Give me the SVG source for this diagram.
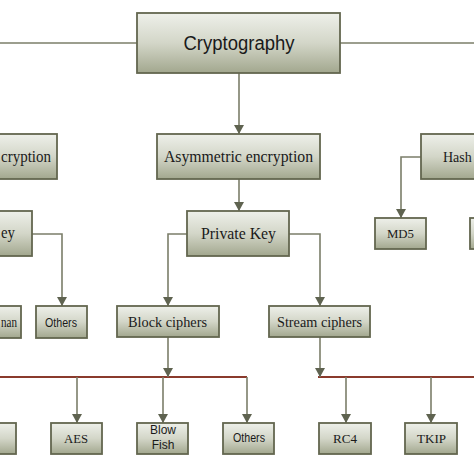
<svg xmlns="http://www.w3.org/2000/svg" width="474" height="474" viewBox="0 0 474 474">
<defs>
<linearGradient id="g" x1="0" y1="0" x2="0" y2="1">
<stop offset="0" stop-color="#eef0ea"/>
<stop offset="0.5" stop-color="#d3d6c8"/>
<stop offset="1" stop-color="#a2a78e"/>
</linearGradient>
<marker id="ad" markerUnits="userSpaceOnUse" markerWidth="12" markerHeight="12" viewBox="0 0 12 12" refX="11" refY="6" orient="auto">
<path d="M2 1 L11 6 L2 11 Z" fill="#5f6350"/>
</marker>
<style>
.box{fill:url(#g);stroke:#63664f;stroke-width:1.8}
.c{fill:none;stroke:#7b7e69;stroke-width:1.6}
.bus{fill:none;stroke:#8a3a2c;stroke-width:2}
.sf{font-family:"Liberation Serif","Times New Roman",serif;fill:#1a1a1a}
.ss{font-family:"Liberation Sans",Arial,sans-serif;fill:#1a1a1a}
</style>
</defs>
<rect width="474" height="474" fill="#ffffff"/>
<g id="connectors">
<path class="c" d="M0 43 H137"/>
<path class="c" d="M340 43 H474"/>
<path class="c" d="M239 73 V134" marker-end="url(#ad)"/>
<path class="c" d="M239 179 V211" marker-end="url(#ad)"/>
<path class="c" d="M187 234 H168 V306" marker-end="url(#ad)"/>
<path class="c" d="M289 234 H320 V306" marker-end="url(#ad)"/>
<path class="c" d="M32 234 H62 V306" marker-end="url(#ad)"/>
<path class="c" d="M421 157 H401 V218" marker-end="url(#ad)"/>
<path class="bus" d="M0 377 H247"/>
<path class="bus" d="M318 377 H474"/>
<path class="c" d="M168 337 V377" marker-end="url(#ad)"/>
<path class="c" d="M320 337 V377" marker-end="url(#ad)"/>
<path class="c" d="M77 377 V423" marker-end="url(#ad)"/>
<path class="c" d="M163 377 V423" marker-end="url(#ad)"/>
<path class="c" d="M247 377 V423" marker-end="url(#ad)"/>
<path class="c" d="M346 377 V423" marker-end="url(#ad)"/>
<path class="c" d="M431 377 V423" marker-end="url(#ad)"/>
</g>
<g id="cryptography">
<rect class="box" x="137" y="13" width="203" height="60"/>
<text class="ss" x="239" y="50" font-size="20" text-anchor="middle" textLength="111" lengthAdjust="spacingAndGlyphs">Cryptography</text>
</g>
<g id="symmetric">
<rect class="box" x="-20" y="134" width="77" height="45"/>
<text class="sf" x="1" y="161.5" font-size="16" textLength="50" lengthAdjust="spacingAndGlyphs">cryption</text>
</g>
<g id="asymmetric">
<rect class="box" x="157" y="134" width="163" height="45"/>
<text class="sf" x="238.5" y="161.5" font-size="16" text-anchor="middle" textLength="149" lengthAdjust="spacingAndGlyphs">Asymmetric encryption</text>
</g>
<g id="hash">
<rect class="box" x="421" y="134" width="80" height="45"/>
<text class="sf" x="443" y="161.5" font-size="14">Hash</text>
</g>
<g id="publickey">
<rect class="box" x="-20" y="211" width="52" height="45"/>
<text class="sf" x="1" y="238" font-size="16" textLength="14" lengthAdjust="spacingAndGlyphs">ey</text>
</g>
<g id="privatekey">
<rect class="box" x="187" y="211" width="102" height="45"/>
<text class="sf" x="238.5" y="239" font-size="16" text-anchor="middle" textLength="75" lengthAdjust="spacingAndGlyphs">Private Key</text>
</g>
<g id="md5">
<rect class="box" x="375" y="218" width="51" height="31"/>
<text class="sf" x="400.5" y="238" font-size="13" text-anchor="middle" textLength="27" lengthAdjust="spacingAndGlyphs">MD5</text>
</g>
<g id="rightpartial">
<rect class="box" x="470" y="218" width="51" height="31"/>
</g>
<g id="leftpartial1">
<rect class="box" x="-30" y="306" width="51" height="32"/>
<text class="sf" x="1" y="327" font-size="14" textLength="16" lengthAdjust="spacingAndGlyphs">nan</text>
</g>
<g id="others1">
<rect class="box" x="36" y="306" width="51" height="32"/>
<text class="ss" x="61" y="327" font-size="12" text-anchor="middle" textLength="32" lengthAdjust="spacingAndGlyphs">Others</text>
</g>
<g id="blockciphers">
<rect class="box" x="117" y="306" width="102" height="31"/>
<text class="sf" x="167.5" y="327" font-size="14.5" text-anchor="middle" textLength="79" lengthAdjust="spacingAndGlyphs">Block ciphers</text>
</g>
<g id="streamciphers">
<rect class="box" x="269" y="306" width="101" height="31"/>
<text class="sf" x="319.5" y="327" font-size="14.5" text-anchor="middle" textLength="85" lengthAdjust="spacingAndGlyphs">Stream ciphers</text>
</g>
<g id="leftpartial2">
<rect class="box" x="-35" y="423" width="51" height="31"/>
</g>
<g id="aes">
<rect class="box" x="51" y="423" width="51" height="31"/>
<text class="sf" x="76" y="443" font-size="13.5" text-anchor="middle" textLength="24" lengthAdjust="spacingAndGlyphs">AES</text>
</g>
<g id="blowfish">
<rect class="box" x="137" y="423" width="51" height="31"/>
<text class="ss" x="163" y="434" font-size="12" text-anchor="middle">Blow</text>
<text class="ss" x="163" y="449" font-size="12" text-anchor="middle">Fish</text>
</g>
<g id="others2">
<rect class="box" x="223" y="423" width="51" height="31"/>
<text class="ss" x="249" y="442" font-size="12" text-anchor="middle" textLength="32" lengthAdjust="spacingAndGlyphs">Others</text>
</g>
<g id="rc4">
<rect class="box" x="319" y="423" width="52" height="31"/>
<text class="sf" x="345" y="443" font-size="13.5" text-anchor="middle" textLength="24" lengthAdjust="spacingAndGlyphs">RC4</text>
</g>
<g id="tkip">
<rect class="box" x="405" y="423" width="52" height="31"/>
<text class="sf" x="431.5" y="443" font-size="13.5" text-anchor="middle" textLength="29" lengthAdjust="spacingAndGlyphs">TKIP</text>
</g>
</svg>
